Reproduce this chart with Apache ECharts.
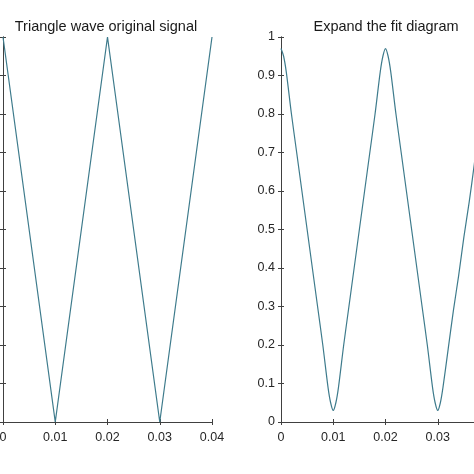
<!DOCTYPE html>
<html>
<head>
<meta charset="utf-8">
<script src="https://cdn.jsdelivr.net/npm/echarts@6/dist/echarts.min.js"></script>
<style>
html,body{margin:0;padding:0;background:#fff;}
#c{width:474px;height:474px;}
</style>
</head>
<body>
<div id="c"></div>
<script>
// Left: original triangle wave
const origT = [0, 0.01, 0.02, 0.03, 0.04];
const origV = [1, 0, 1, 0, 1];
// Right: fitted (expanded) curve
const fitT = [0, 0.0005, 0.001, 0.002, 0.003, 0.004, 0.005, 0.006, 0.007, 0.008, 0.009, 0.0095,
  0.01, 0.0105, 0.011, 0.012, 0.013, 0.014, 0.015, 0.016, 0.017, 0.018, 0.019, 0.0195,
  0.02, 0.0205, 0.021, 0.022, 0.023, 0.024, 0.025, 0.026, 0.027, 0.028, 0.029, 0.0295,
  0.03, 0.0305, 0.031, 0.032, 0.033, 0.034, 0.035, 0.036, 0.037, 0.038, 0.039, 0.0395, 0.04];
const fitV = [0.97, 0.95, 0.91, 0.80, 0.70, 0.60, 0.50, 0.40, 0.30, 0.20, 0.09, 0.05,
  0.03, 0.05, 0.09, 0.20, 0.30, 0.40, 0.50, 0.60, 0.70, 0.80, 0.91, 0.95,
  0.97, 0.95, 0.91, 0.80, 0.70, 0.60, 0.50, 0.40, 0.30, 0.20, 0.09, 0.05,
  0.03, 0.05, 0.09, 0.19, 0.29, 0.38, 0.48, 0.57, 0.67, 0.78, 0.90, 0.95, 0.97];
const xTicks = [0, 0.01, 0.02, 0.03, 0.04];
const yTicks = [0, 0.1, 0.2, 0.3, 0.4, 0.5, 0.6, 0.7, 0.8, 0.9, 1];
const titles = ['Triangle wave original signal', 'Expand the fit diagram'];

const axisColor = '#404040';
const lineColor = '#3e7b8c';
const font = 'Liberation Sans, Arial, sans-serif';

function xAx(grid, pos, labels) {
  return {
    type: 'value', gridIndex: grid, position: pos,
    min: xTicks[0], max: xTicks[xTicks.length - 1], interval: 0.01,
    axisLine: {show: pos === 'bottom', lineStyle: {color: axisColor, width: 1}},
    axisTick: {show: true, inside: true, length: 3, lineStyle: {color: axisColor}},
    axisLabel: {show: labels, color: '#262626', fontSize: 12.5, fontFamily: font, margin: 9,
      formatter: v => String(+v.toFixed(2))},
    splitLine: {show: false}
  };
}
function yAx(grid, pos, labels, line) {
  return {
    type: 'value', gridIndex: grid, position: pos,
    min: yTicks[0], max: yTicks[yTicks.length - 1], interval: 0.1,
    axisLine: {show: line, lineStyle: {color: axisColor, width: 1}},
    axisTick: {show: true, inside: true, length: 3, lineStyle: {color: axisColor}},
    axisLabel: {show: labels, color: '#262626', fontSize: 12.5, fontFamily: font, margin: 6,
      formatter: v => String(+v.toFixed(1))},
    splitLine: {show: false}
  };
}

const chart = echarts.init(document.getElementById('c'), null, {renderer: 'canvas'});
chart.setOption({
  animation: false,
  backgroundColor: '#ffffff',
  title: [
    {text: titles[0], left: 101, top: 14, textAlign: 'center',
      textStyle: {fontSize: 14.5, fontWeight: 'normal', color: '#1a1a1a', fontFamily: font}},
    {text: titles[1], left: 381, top: 14, textAlign: 'center',
      textStyle: {fontSize: 14.5, fontWeight: 'normal', color: '#1a1a1a', fontFamily: font}}
  ],
  grid: [
    {left: 3, top: 37, width: 209, height: 385, outerBoundsMode: 'none', containLabel: false},
    {left: 281, top: 37, width: 209, height: 385, outerBoundsMode: 'none', containLabel: false}
  ],
  xAxis: [xAx(0, 'bottom', true), xAx(0, 'top', false), xAx(1, 'bottom', true), xAx(1, 'top', false)],
  yAxis: [yAx(0, 'left', false, true), yAx(0, 'right', false, true), yAx(1, 'left', true, true), yAx(1, 'right', false, true)],
  series: [
    {type: 'line', xAxisIndex: 0, yAxisIndex: 0, showSymbol: false, silent: true,
      data: origT.map((t, i) => [t, origV[i]]),
      lineStyle: {color: lineColor, width: 1.2}},
    {type: 'line', xAxisIndex: 2, yAxisIndex: 2, showSymbol: false, silent: true, smooth: 0.3,
      data: fitT.map((t, i) => [t, fitV[i]]),
      lineStyle: {color: lineColor, width: 1.2}}
  ]
});
</script>
</body>
</html>
